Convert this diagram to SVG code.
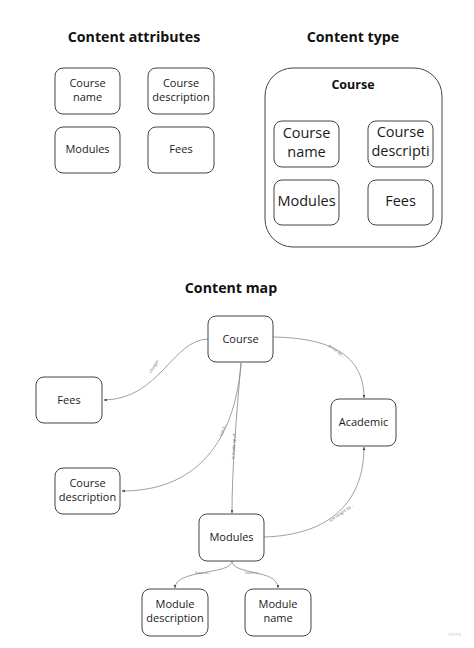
<svg xmlns="http://www.w3.org/2000/svg" width="474" height="648" viewBox="0 0 474 648">
<style>
.box{fill:#fff;stroke:#444;stroke-width:1}
.t{font-family:"Open Sans","Liberation Sans",sans-serif;font-size:11px;fill:#1a1a1a;text-anchor:middle}
.tl{font-family:"Open Sans","Liberation Sans",sans-serif;font-size:14.5px;fill:#1a1a1a;text-anchor:middle}
.h{font-family:"Open Sans","Liberation Sans",sans-serif;font-size:14.2px;font-weight:bold;fill:#111;text-anchor:middle}
.c{fill:none;stroke:#888;stroke-width:0.8}
.lb{font-family:"Open Sans","Liberation Sans",sans-serif;font-size:4px;fill:#666;text-anchor:middle}
</style>
<defs>
<marker id="ah" viewBox="0 0 10 10" refX="9" refY="5" markerWidth="4" markerHeight="4" orient="auto-start-reverse">
<path d="M0,1 L10,5 L0,9 z" fill="#444"/>
</marker>
</defs>
<rect width="474" height="648" fill="#fff"/>

<g id="titles">
<text class="h" x="134" y="42">Content attributes</text>
<text class="h" x="353" y="42">Content type</text>
<text class="h" x="231" y="293">Content map</text>
</g>

<g id="attr-course-name"><rect class="box" x="55" y="68" width="65" height="46" rx="8"/><text class="t" x="87.5" y="87">Course</text><text class="t" x="87.5" y="101">name</text></g>
<g id="attr-course-description"><rect class="box" x="148" y="68" width="66" height="46" rx="8"/><text class="t" x="181" y="87">Course</text><text class="t" x="181" y="101">description</text></g>
<g id="attr-modules"><rect class="box" x="55" y="127" width="65" height="46" rx="8"/><text class="t" x="87.5" y="153">Modules</text></g>
<g id="attr-fees"><rect class="box" x="148" y="127" width="66" height="46" rx="8"/><text class="t" x="181" y="153">Fees</text></g>

<g id="type-course">
<rect class="box" x="265" y="68" width="177" height="179" rx="28"/>
<text class="h" x="353" y="89" style="font-size:12.5px">Course</text>
</g>
<g id="type-course-name"><rect class="box" x="274" y="121" width="65" height="46" rx="8"/><text class="tl" x="306.5" y="138">Course</text><text class="tl" x="306.5" y="157">name</text></g>
<g id="type-course-description"><rect class="box" x="368" y="121" width="65" height="46" rx="8"/><text class="tl" x="400.5" y="137">Course</text><text class="tl" x="400.5" y="156">descripti</text></g>
<g id="type-modules"><rect class="box" x="274" y="180" width="65" height="45" rx="8"/><text class="tl" x="306.5" y="206">Modules</text></g>
<g id="type-fees"><rect class="box" x="368" y="180" width="65" height="45" rx="8"/><text class="tl" x="400.5" y="206">Fees</text></g>

<g id="connectors">
<path class="c" d="M208,339 C172,340 160,399 104,400" marker-end="url(#ah)"/>
<path class="c" d="M273,337 C338,338 364,360 364,398" marker-end="url(#ah)"/>
<path class="c" d="M241,363 C236,430 205,491 122,491" marker-end="url(#ah)"/>
<path class="c" d="M241,363 C236,420 232,470 232,513" marker-end="url(#ah)"/>
<path class="c" d="M264,537 C332,535 364,500 364,447" marker-end="url(#ah)"/>
<path class="c" d="M232,561 C232,575 175,569 175,588" marker-end="url(#ah)"/>
<path class="c" d="M232,561 C232,575 278,569 278,588" marker-end="url(#ah)"/>
<text class="lb" transform="translate(155,367) rotate(-58)">charges</text>
<text class="lb" transform="translate(336,352) rotate(35)">is run by...</text>
<text class="lb" transform="translate(224,430) rotate(-72)">has a...</text>
<text class="lb" transform="translate(235,445) rotate(-87)">is made up of...</text>
<text class="lb" transform="translate(342,514) rotate(-35)">are taught by...</text>
<text class="lb" x="203" y="574">have a...</text>
<text class="lb" x="253" y="574">have a...</text>
</g>

<g id="map-course"><rect class="box" x="208" y="316" width="65" height="46" rx="8"/><text class="t" x="240.5" y="343">Course</text></g>
<g id="map-fees"><rect class="box" x="36" y="377" width="66" height="46" rx="8"/><text class="t" x="69" y="404">Fees</text></g>
<g id="map-academic"><rect class="box" x="331" y="399" width="65" height="47" rx="8"/><text class="t" x="363.5" y="426">Academic</text></g>
<g id="map-course-description"><rect class="box" x="55" y="468" width="65" height="46" rx="8"/><text class="t" x="87.5" y="487">Course</text><text class="t" x="87.5" y="501">description</text></g>
<g id="map-modules"><rect class="box" x="199" y="514" width="65" height="47" rx="8"/><text class="t" x="231.5" y="541">Modules</text></g>
<g id="map-module-description"><rect class="box" x="142" y="589" width="66" height="47" rx="8"/><text class="t" x="175" y="608">Module</text><text class="t" x="175" y="622">description</text></g>
<g id="map-module-name"><rect class="box" x="245" y="589" width="66" height="47" rx="8"/><text class="t" x="278" y="608">Module</text><text class="t" x="278" y="622">name</text></g>

<text x="455" y="636" style="font-family:'Open Sans','Liberation Sans',sans-serif;font-size:6px;fill:#ccc;text-anchor:middle">miro</text>
</svg>
